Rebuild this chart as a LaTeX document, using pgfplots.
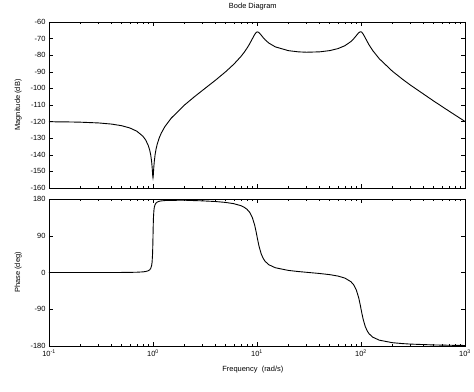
\documentclass[border=0pt]{standalone}
\usepackage{fontspec}
\setmainfont{Liberation Sans}
\usepackage{pgfplots}
\usepackage{pgfplotstable}
\pgfplotsset{compat=1.18}

\pgfplotstableread{
w mag phase
0.1 -120.09 0.0
0.15 -120.19 0.0
0.2 -120.35 0.0
0.3 -120.81 0.0
0.4 -121.50 0.04
0.5 -122.48 0.13
0.6 -123.85 0.32
0.7 -125.81 0.69
0.8 -128.82 1.53
0.85 -131.06 2.43
0.9 -134.32 4.27
0.93 -137.24 6.66
0.95 -139.98 9.82
0.97 -144.04 16.94
0.98 -147.02 25.09
0.99 -150.95 43.6
0.995 -153.08 62.12
1.0 -153.89 88.73
1.005 -152.99 115.23
1.01 -150.81 133.57
1.02 -146.80 151.91
1.03 -143.75 160.0
1.05 -139.52 167.08
1.07 -136.58 170.24
1.1 -133.41 172.62
1.15 -129.69 174.45
1.2 -126.99 175.35
1.3 -123.07 176.18
1.5 -117.87 176.70
2 -110.11 177.0
2.5 -105.04 176.11
3 -101.13 175.45
4 -94.99 173.79
5 -89.95 171.6
6 -85.36 168.49
7 -80.80 163.67
7.5 -78.41 160.06
8 -75.87 154.97
8.5 -73.13 147.39
9 -70.23 135.38
9.5 -67.50 115.95
9.8 -66.38 100.17
9.9 -66.16 94.47
10 -66.03 88.72
10.1 -65.98 83.04
10.2 -66.01 77.51
10.5 -66.51 62.66
11 -67.97 44.95
11.5 -69.48 34.07
12 -70.77 27.11
13 -72.70 19.03
15 -74.98 11.66
20 -77.25 5.14
25 -77.99 2.34
30 -78.21 0.48
40 -77.98 -2.42
50 -77.24 -5.22
60 -76.04 -8.68
70 -74.29 -13.70
80 -71.78 -22.52
85 -70.13 -30.13
90 -68.25 -42.17
95 -66.50 -61.62
98 -65.93 -77.40
99 -65.89 -83.09
100 -65.94 -88.85
101 -66.07 -94.53
102 -66.28 -100.07
105 -67.30 -114.93
110 -69.59 -132.63
115 -71.89 -143.51
120 -73.94 -150.44
130 -77.30 -158.47
150 -82.14 -165.74
200 -89.60 -171.85
250 -94.43 -174.10
300 -98.08 -175.34
500 -107.61 -177.39
700 -113.63 -178.17
1000 -119.91 -178.73
}\bode

\pgfplotsset{
  bodeax/.style={
    xmin=0.1, xmax=1000,
    scale only axis,
    width=416bp,
    tick align=inside,
    major tick length=4bp,
    minor tick length=2.2bp,
    axis line style={line width=0.8bp},
    every tick/.style={black, line width=0.5bp},
    every minor tick/.style={black, line width=0.4bp},
    tick label style={font=\fontsize{7.5}{8.5}\selectfont},
    label style={font=\fontsize{7.5}{8.5}\selectfont},
    /pgf/number format/assume math mode=true,
    ylabel style={at={(axis description cs:-0.074,0.5)}, anchor=center},
  }
}

\begin{document}
\begin{tikzpicture}
\useasboundingbox (0,0) rectangle (474bp,392bp);
\begin{semilogxaxis}[bodeax,
  at={(49bp,204bp)}, anchor=south west,
  height=166bp,
  ymin=-160, ymax=-60,
  ytick={-160,-150,...,-60},
  xtick={0.1,1,10,100,1000},
  xticklabels=\empty,
  ylabel={Magnitude (dB)},
  clip=false,
]
\addplot[black, line width=0.9bp] table[x=w, y=mag] {\bode};
\node[font=\fontsize{7.5}{8}\selectfont, inner sep=0.5pt, anchor=center] at (axis description cs:0.49,1.095) {Bode Diagram};
\end{semilogxaxis}
\begin{semilogxaxis}[bodeax,
  at={(49bp,46bp)}, anchor=south west,
  height=147bp,
  ymin=-180, ymax=180,
  ytick={-180,-90,0,90,180},
  xtick={0.1,1,10,100,1000},
  xticklabels={10\textsuperscript{-1},10\textsuperscript{0},10\textsuperscript{1},10\textsuperscript{2},10\textsuperscript{3}},
  xlabel={Frequency\ \ (rad/s)},
  xlabel style={at={(axis description cs:0.49,-0.163)}, anchor=center},
  ylabel={Phase (deg)},
]
\addplot[black, line width=0.9bp] table[x=w, y=phase] {\bode};
\end{semilogxaxis}
\end{tikzpicture}
\end{document}
